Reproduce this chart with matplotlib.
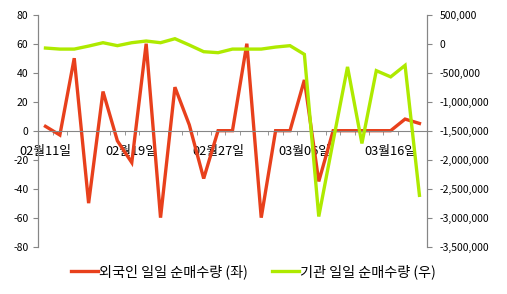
import matplotlib
matplotlib.use('Agg')
import matplotlib.pyplot as plt
import numpy as np
from matplotlib.ticker import FuncFormatter, MultipleLocator
from matplotlib.lines import Line2D

plt.rcParams['font.family'] = ['Noto Sans CJK KR', 'DejaVu Sans']
plt.rcParams['axes.unicode_minus'] = False

# daily net buying: foreigners (left axis) and institutions (right axis)
foreign = [3, -3, 50, -50, 27, -7, -22, 60, -60, 30, 4, -33, 0, 0,
           60, -60, 0, 0, 35, -35, 0, 0, 0, 0, 0, 8, 5]
institution = [-75000, -93000, -93000, -41000, 17000, -34000, 17000, 46000,
               17000, 86000, -23000, -138000, -155000, -93000, -93000, -93000,
               -58000, -34000, -184000, -2980000, -1680000, -400000, -1720000,
               -465000, -572000, -374000, -2615000]
tick_idx = [0, 6, 12, 18, 24]
tick_labels = ['02월11일', '02월19일', '02월27일', '03월06일', '03월16일']

red = '#E8401C'
green = '#AEEA00'
gray = '#868686'

x = np.arange(len(foreign))

fig = plt.figure(figsize=(5.07, 2.94), dpi=100)
ax = fig.add_axes([0.0755, 0.161, 0.766, 0.789])
ax2 = ax.twinx()

ax.plot(x, foreign, color=red, lw=2.4, solid_joinstyle='miter')
ax2.plot(x, institution, color=green, lw=2.4, solid_joinstyle='miter')

ax.set_xlim(-0.5, len(foreign) - 0.5)
ax.set_ylim(-80, 80)
ax.yaxis.set_major_locator(MultipleLocator(20))
ax2.set_ylim(-3500000, 500000)
ax2.yaxis.set_major_locator(MultipleLocator(500000))
ax2.yaxis.set_major_formatter(FuncFormatter(lambda v, p: f'{int(v):,}'))

for a in (ax, ax2):
    for s in a.spines.values():
        s.set_color(gray)
    a.spines['top'].set_visible(False)
ax2.spines['bottom'].set_visible(False)
ax.spines['bottom'].set_position(('data', 0))

ax.set_xticks(tick_idx)
ax.set_xticklabels(tick_labels)
ax.set_xticks(np.arange(-0.5, len(foreign)), minor=True)
ax.tick_params(axis='x', which='major', length=0, pad=10, labelsize=9.2)
ax.tick_params(axis='x', which='minor', length=3, color=gray, direction='out')
ax.tick_params(axis='y', length=3.6, color=gray, labelsize=7.5, pad=3.5)
ax2.tick_params(axis='y', length=3.6, color=gray, labelsize=7.5, pad=6)

handles = [Line2D([], [], color=red, lw=2.4), Line2D([], [], color=green, lw=2.4)]
fig.legend(handles, ['외국인 일일 순매수량 (좌)', '기관 일일 순매수량 (우)'],
           loc='center', bbox_to_anchor=(0.5, 1 - 272 / 294), ncol=2,
           frameon=False, fontsize=10.2, handlelength=1.9, handletextpad=0.1,
           columnspacing=1.7)

fig.savefig('out.png', dpi=100)
